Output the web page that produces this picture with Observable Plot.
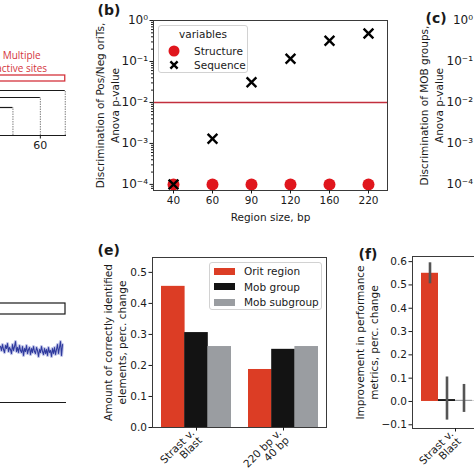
<!DOCTYPE html>
<html>
<head>
<meta charset="utf-8">
<script src="https://cdn.jsdelivr.net/npm/d3@7"></script>
<script src="https://cdn.jsdelivr.net/npm/@observablehq/plot@0.6"></script>
<style>
  body { margin: 0; background: #fff; }
  #fig { position: relative; width: 474px; height: 474px; overflow: hidden; background: #fff;
         font-family: "DejaVu Sans", sans-serif; color: #1a1a1a; }
  .panel { position: absolute; }
  .legend { position: absolute; box-sizing: border-box; background: rgba(255,255,255,0.85);
            border: 1px solid #d2d2d2; border-radius: 3px; font-size: 10.5px; }
  .legend .row { position: absolute; white-space: nowrap; line-height: 12px; height: 12px; }
  .legend svg { position: absolute; overflow: visible; }
</style>
</head>
<body>
<div id="fig"></div>
<script>
// ---- (a) window diagram ----
const aWindowEnds = [80, 60, 38];
const aWindowLevels = [4.5, 3.8, 2.8];
const aSiteBox = [{x1: 20, x2: 80, y1: 5.4, y2: 6.0}];
const aSiteLabel = "Multiple\nactive sites";
const aTicks = [60];

// ---- (b) Pos/Neg oriT discrimination ----
const regionSizes = [40, 60, 90, 120, 160, 220];
const structureP = [1e-4, 1e-4, 1e-4, 1e-4, 1e-4, 1e-4];
const sequenceP = [1e-4, 1.3e-3, 3.1e-2, 0.117, 0.32, 0.48];
const significance = 0.01;
const pTicks = [1e-4, 1e-3, 1e-2, 1e-1, 1];
const pTickLabels = ["10⁻⁴", "10⁻³", "10⁻²", "10⁻¹", "10⁰"];
const bVariables = ["Structure", "Sequence"];

// ---- (d) signal trace ----
const dTrace = [0.56,0.52,0.58,0.53,0.50,0.57,0.54,0.59,0.51,0.55,
                0.53,0.49,0.58,0.52,0.56,0.61,0.51,0.55,0.50,0.57,
                0.52,0.50,0.56,0.47,0.54,0.51,0.57,0.49,0.53,0.55,
                0.48,0.54,0.50,0.56,0.51,0.49,0.55,0.52,0.46,0.53,
                0.50,0.56,0.51,0.48,0.54,0.49,0.53,0.47,0.55,0.50,
                0.52,0.46,0.54,0.49,0.55,0.48,0.53,0.58,0.49,0.55,
                0.61,0.47,0.58];
const dBox = [{x1: -10, x2: 65, y1: 0.88, y2: 0.99}];
const dBaseline = 0;

// ---- (e) correctly identified elements ----
const comparisons = ["Strast v.\nBlast", "220 bp v.\n40 bp"];
const eSeries = ["Orit region", "Mob group", "Mob subgroup"];
const eOrit = [0.455, 0.187];
const eMobGroup = [0.306, 0.252];
const eMobSubgroup = [0.261, 0.261];
const eTicks = [0, 0.1, 0.2, 0.3, 0.4, 0.5];

// ---- (f) improvement in performance metrics ----
const fComparison = "Strast v.\nBlast";
const fValue = [0.55, 0.008, 0.005, 0.003];
const fLow = [0.505, -0.08, -0.047, -0.04];
const fHigh = [0.595, 0.105, 0.073, 0.05];
const fTicks = [-0.1, 0, 0.1, 0.2, 0.3, 0.4, 0.5, 0.6];

const barColors = ["#dc3d25", "#131313", "#9a9da1", "#c8c8c8"];
const fmt1 = d3.format(".1f");

const fig = document.getElementById("fig");
function place(node, left, top) {
  const wrap = document.createElement("div");
  wrap.className = "panel";
  wrap.style.left = left + "px";
  wrap.style.top = top + "px";
  wrap.appendChild(node);
  fig.appendChild(wrap);
}
const baseStyle = {background: "transparent", fontFamily: "DejaVu Sans, sans-serif",
                   fontSize: "10.5px", color: "#1a1a1a", maxWidth: "none", overflow: "visible"};

// (a)
const aWindows = aWindowEnds.map((end, i) => ({end, level: aWindowLevels[i]}));
place(Plot.plot({
  width: 80, height: 130, marginLeft: 0, marginRight: 14, marginTop: 5, marginBottom: 25,
  style: baseStyle,
  x: {domain: [28, 81]},
  y: {domain: [0, 10], axis: null},
  marks: [
    Plot.rect(aSiteBox, {x1: "x1", x2: "x2", y1: "y1", y2: "y2", fill: "none", stroke: "#d4343c", strokeWidth: 1.3}),
    Plot.text([aSiteLabel], {x: 45, y: 6.4, text: d => d, fill: "#d4343c", fontFamily: "Open Sans",
                             fontSize: 10, lineHeight: 1.3, lineAnchor: "bottom"}),
    Plot.ruleX(aWindows, {x: "end", y1: 0, y2: "level", stroke: "#808080", strokeWidth: 1, strokeDasharray: "1.5,1"}),
    Plot.ruleY(aWindows, {y: "level", x1: 20, x2: "end", stroke: "#1a1a1a", strokeWidth: 1.2}),
    Plot.ruleY([0], {x1: 20, x2: 81, stroke: "#1a1a1a", strokeWidth: 1.1}),
    Plot.axisX({ticks: aTicks, tickSize: 3.5, tickPadding: 2, label: null, fontSize: 11})
  ]
}), 0, 30);

// (b)
const bData = regionSizes.map((size, i) => ({size, structure: structureP[i], sequence: sequenceP[i]}));
const pDomain = [7.1e-5, 1];
const minorP = [1e-5, ...pTicks].flatMap(d => d3.range(2, 10).map(k => k * d))
  .filter(v => v >= pDomain[0] && v <= pDomain[1]);
const pFormat = d => pTickLabels[pTicks.indexOf(d)];
place(Plot.plot({
  width: 320, height: 232, marginLeft: 73, marginRight: 13, marginTop: 20, marginBottom: 42,
  style: baseStyle,
  x: {type: "point", domain: regionSizes, padding: 0.5},
  y: {type: "log", domain: pDomain},
  marks: [
    Plot.ruleY([significance], {stroke: "#c22f3d", strokeWidth: 1.6}),
    Plot.dot(bData, {x: "size", y: "structure", r: 6, fill: "#e0161d"}),
    Plot.dot(bData, {x: "size", y: "sequence", symbol: "times", r: 4.5, stroke: "#000", strokeWidth: 2.4}),
    Plot.frame({stroke: "#3a3a3a"}),
    Plot.axisX({tickSize: 3.5, tickPadding: 3, label: null}),
    Plot.axisY({ticks: pTicks, tickFormat: pFormat, tickSize: 3.5, tickPadding: 2, label: null, fontSize: 12}),
    Plot.axisY({ticks: minorP, tickFormat: () => "", tickSize: 2, label: null}),
    Plot.text(["Region size, bp"], {text: d => d, frameAnchor: "bottom", dy: 27, lineAnchor: "middle"}),
    Plot.text(["Discrimination of Pos/Neg oriTs,\nAnova p-value"], {text: d => d, frameAnchor: "left", dx: -47,
      rotate: -90, lineHeight: 1.4, lineAnchor: "middle", textAnchor: "middle"}),
    Plot.text(["(b)"], {text: d => d, frameAnchor: "top-left", dx: -56, dy: -10, textAnchor: "start",
      lineAnchor: "middle", fontWeight: "bold", fontSize: 14})
  ]
}), 80, 0);

// (c)
place(Plot.plot({
  width: 200, height: 232, marginLeft: 78, marginRight: 10, marginTop: 20, marginBottom: 42,
  style: baseStyle,
  y: {type: "log", domain: pDomain},
  marks: [
    Plot.frame({stroke: "#3a3a3a"}),
    Plot.axisY({ticks: pTicks, tickFormat: pFormat, tickSize: 3.5, tickPadding: 2, label: null, fontSize: 12}),
    Plot.axisY({ticks: minorP, tickFormat: () => "", tickSize: 2, label: null}),
    Plot.text(["Discrimination of MOB groups,\nAnova p-value"], {text: d => d, frameAnchor: "left", dx: -48,
      rotate: -90, lineHeight: 1.4, lineAnchor: "middle", textAnchor: "middle"}),
    Plot.text(["(c)"], {text: d => d, frameAnchor: "top-left", dx: -53, dy: -2, textAnchor: "start",
      lineAnchor: "middle", fontWeight: "bold", fontSize: 14})
  ]
}), 400, 0);

// (d)
place(Plot.plot({
  width: 80, height: 120, marginLeft: 0, marginRight: 14, marginTop: 12, marginBottom: 8,
  style: baseStyle,
  x: {domain: [0, 66], axis: null},
  y: {domain: [0, 1], axis: null},
  marks: [
    Plot.rect(dBox, {x1: "x1", x2: "x2", y1: "y1", y2: "y2", fill: "none", stroke: "#1a1a1a", strokeWidth: 1.2}),
    Plot.lineY(dTrace, {stroke: "#8c93d6", strokeWidth: 3.2, strokeOpacity: 0.55}),
    Plot.lineY(dTrace, {stroke: "#2f3a9e", strokeWidth: 1.1}),
    Plot.ruleY([dBaseline], {x1: -10, x2: 66, stroke: "#1a1a1a", strokeWidth: 1.1})
  ]
}), 0, 290);

// (e)
const eRows = comparisons.map((comparison, i) => ({comparison, v: [eOrit[i], eMobGroup[i], eMobSubgroup[i]]}));
const eInner = 260 - 72 - 14;
const eBand = eInner / (comparisons.length - 0.2 + 0.2) * 0.8;
const eBar = eBand / eSeries.length;
place(Plot.plot({
  width: 260, height: 234, marginLeft: 72, marginRight: 14, marginTop: 17, marginBottom: 47,
  style: baseStyle,
  x: {type: "band", domain: comparisons, paddingInner: 0.2, paddingOuter: 0.1},
  y: {domain: [0, 0.548]},
  marks: [
    ...eSeries.map((s, i) => Plot.barY(eRows, {x: "comparison", y: d => d.v[i], fill: barColors[i],
      insetLeft: i * eBar, insetRight: (eSeries.length - 1 - i) * eBar})),
    Plot.frame({stroke: "#3a3a3a"}),
    Plot.axisX({tickSize: 3.5, tickRotate: -45, tickPadding: 4, label: null}),
    Plot.axisY({ticks: eTicks, tickFormat: fmt1, tickSize: 3.5, tickPadding: 2, label: null}),
    Plot.text(["Amount of correctly identified\nelements, perc. change"], {text: d => d, frameAnchor: "left", dx: -38,
      rotate: -90, lineHeight: 1.35, lineAnchor: "middle", textAnchor: "middle"}),
    Plot.text(["(e)"], {text: d => d, frameAnchor: "top-left", dx: -55, dy: -7, textAnchor: "start",
      lineAnchor: "middle", fontWeight: "bold", fontSize: 14})
  ]
}), 80, 240);

// (f)
const fRows = fValue.map((v, i) => ({comparison: fComparison, v, lo: fLow[i], hi: fHigh[i], i}));
const fInner = 260 - 72 - 18;
const fBand = fInner / (comparisons.length - 0.2 + 0.2) * 0.8;
const fBar = fBand / fValue.length;
place(Plot.plot({
  width: 260, height: 234, marginLeft: 72, marginRight: 18, marginTop: 16, marginBottom: 46,
  style: baseStyle,
  x: {type: "band", domain: comparisons, paddingInner: 0.2, paddingOuter: 0.1},
  y: {domain: [-0.116, 0.622]},
  marks: [
    ...fRows.map((r, i) => Plot.barY([r], {x: "comparison", y: "v", fill: barColors[i],
      insetLeft: i * fBar, insetRight: (fValue.length - 1 - i) * fBar})),
    ...fRows.map((r, i) => Plot.ruleX([r], {x: "comparison", y1: "lo", y2: "hi",
      dx: (i - (fValue.length - 1) / 2) * fBar, stroke: "#555", strokeWidth: 2.6})),
    Plot.frame({stroke: "#3a3a3a"}),
    Plot.axisX({ticks: [fComparison], tickSize: 3.5, tickRotate: -45, tickPadding: 4, label: null}),
    Plot.axisY({ticks: fTicks, tickFormat: fmt1, tickSize: 3.5, tickPadding: 2, label: null}),
    Plot.text(["Improvement in performance\nmetrics, perc. change"], {text: d => d, frameAnchor: "left", dx: -46,
      rotate: -90, lineHeight: 1.35, lineAnchor: "middle", textAnchor: "middle"}),
    Plot.text(["(f)"], {text: d => d, frameAnchor: "top-left", dx: -54, dy: -2, textAnchor: "start",
      lineAnchor: "middle", fontWeight: "bold", fontSize: 14})
  ]
}), 340, 240);

// legends
function legend(left, top, width, height) {
  const el = document.createElement("div");
  el.className = "legend";
  Object.assign(el.style, {left: left + "px", top: top + "px", width: width + "px", height: height + "px"});
  fig.appendChild(el);
  return el;
}
function row(parent, text, left, cy) {
  const s = document.createElement("div");
  s.className = "row";
  s.textContent = text;
  s.style.left = left + "px";
  s.style.top = (cy - 6) + "px";
  parent.appendChild(s);
  return s;
}
const NS = "http://www.w3.org/2000/svg";
function marker(parent, cx, cy, draw) {
  const svg = document.createElementNS(NS, "svg");
  svg.setAttribute("width", 14); svg.setAttribute("height", 14);
  svg.style.left = (cx - 7) + "px"; svg.style.top = (cy - 7) + "px";
  svg.setAttribute("viewBox", "-7 -7 14 14");
  draw(svg);
  parent.appendChild(svg);
}

const lb = legend(158, 25, 90, 48);
const title = row(lb, "variables", 0, 8);
title.style.width = "100%"; title.style.textAlign = "center";
bVariables.forEach((name, i) => {
  const cy = 25 + i * 14;
  marker(lb, 15, cy, svg => {
    if (i === 0) {
      const c = document.createElementNS(NS, "circle");
      c.setAttribute("r", 5.5); c.setAttribute("fill", "#e0161d");
      svg.appendChild(c);
    } else {
      const p = document.createElementNS(NS, "path");
      p.setAttribute("d", "M-3.6,-3.6L3.6,3.6M-3.6,3.6L3.6,-3.6");
      p.setAttribute("stroke", "#000"); p.setAttribute("stroke-width", 2.4);
      svg.appendChild(p);
    }
  });
  row(lb, name, 35, cy);
});

const le = legend(209, 262, 113, 48);
eSeries.forEach((name, i) => {
  const cy = 8 + i * 15.5;
  const sw = document.createElement("div");
  Object.assign(sw.style, {position: "absolute", left: "4px", top: (cy - 3.5) + "px", width: "21px",
                           height: "7px", background: barColors[i]});
  le.appendChild(sw);
  row(le, name, 34, cy);
});
</script>
</body>
</html>
